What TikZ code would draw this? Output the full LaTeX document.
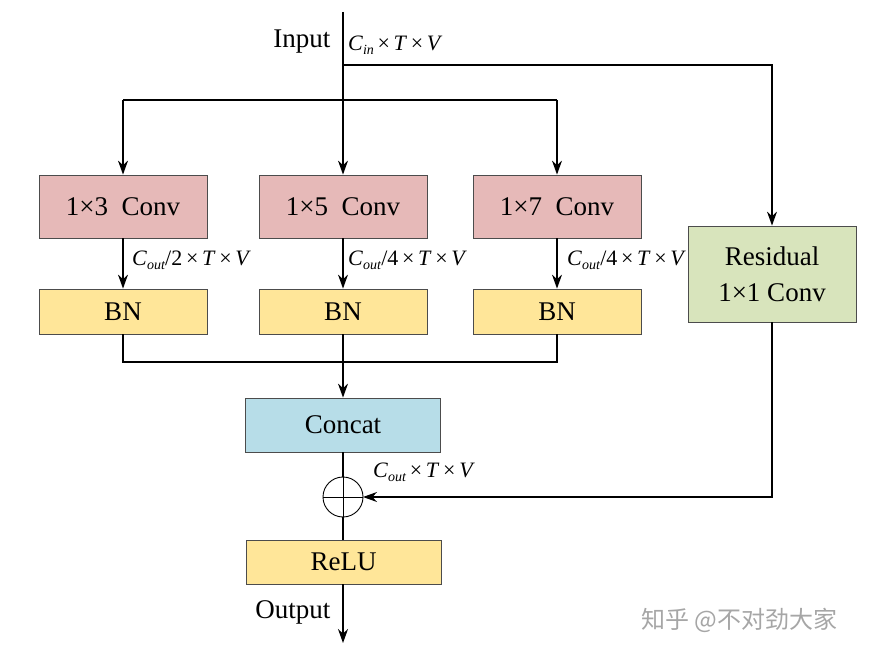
\documentclass[tikz,border=0pt]{standalone}
\usepackage{fontspec}
\setmainfont{Liberation Serif}
\newfontfamily\cjk{Noto Sans CJK SC}
\usetikzlibrary{arrows.meta}
\newcommand{\V}[1]{\textit{#1}}
\newcommand{\Cs}[1]{\textit{C}\raisebox{-4pt}{\fontsize{14}{14}\selectfont\textit{#1}}}
\begin{document}
\begin{tikzpicture}[x=1pt,y=-1pt,
  box/.style={draw=black!70,line width=0.8pt,minimum width=168pt,minimum height=63pt,font=\fontsize{27}{29}\selectfont,inner sep=0},
  conv/.style={box,fill=convred},
  bn/.style={box,fill=bnyel,minimum height=45pt},
  ln/.style={line width=1.3pt},
  arr/.style={ln,-{Stealth[length=14pt,width=10pt]}},
  lab/.style={font=\fontsize{22}{24}\selectfont,anchor=west,inner sep=0}]
\definecolor{convred}{HTML}{E6B9B8}
\definecolor{bnyel}{HTML}{FFE699}
\definecolor{resgreen}{HTML}{D8E4BC}
\definecolor{catblue}{HTML}{B7DDE8}
\useasboundingbox (0,0) rectangle (873,655);
\coordinate (in) at (343,12);
\node[conv] (c3) at (123,206.5) {1×3\ \ Conv};
\node[conv] (c5) at (343,206.5) {1×5\ \ Conv};
\node[conv] (c7) at (557,206.5) {1×7\ \ Conv};
\node[bn] (b3) at (123,311.5) {BN};
\node[bn] (b5) at (343,311.5) {BN};
\node[bn] (b7) at (557,311.5) {BN};
\node[box,fill=resgreen,minimum height=96pt,align=center,font=\fontsize{27}{36}\selectfont] (res) at (772,274) {Residual\\1×1 Conv};
\node[box,fill=catblue,minimum width=195pt,minimum height=54pt] (cat) at (343,425) {Concat};
\node[draw,circle,minimum size=40pt,line width=0.9pt,inner sep=0,outer sep=0] (add) at (343,497) {};
\draw[line width=0.9pt] (add.north)--(add.south) (add.west)--(add.east);
\node[box,fill=bnyel,minimum width=195pt,minimum height=44pt] (relu) at (343.5,562) {ReLU};
\coordinate (out) at (343,643);
\draw[arr] (in) -- (c5.north);
\draw[arr] (343,65) -| (res.north);
\draw[ln] (123,100) -- (557,100);
\draw[arr] (123,100) -- (c3.north);
\draw[arr] (557,100) -- (c7.north);
\node[font=\fontsize{27}{29}\selectfont,anchor=east] at (334,42) {Input};
\node[lab] at (348,45) {\Cs{in}\,×\,\V{T}\,×\,\V{V}};
\draw[arr] (c3) -- (b3);
\draw[arr] (c5) -- (b5);
\draw[arr] (c7) -- (b7);
\node[lab] at (132,260) {\Cs{out}/2\,×\,\V{T}\,×\,\V{V}};
\node[lab] at (348,260) {\Cs{out}/4\,×\,\V{T}\,×\,\V{V}};
\node[lab] at (567,260) {\Cs{out}/4\,×\,\V{T}\,×\,\V{V}};
\draw[ln] (b3.south) |- (557,362) -- (b7.south);
\draw[arr] (b5.south) -- (cat.north);
\draw[ln] (cat.south) -- (add.north);
\node[lab] at (373,472) {\Cs{out}\,×\,\V{T}\,×\,\V{V}};
\draw[arr] (res.south) |- (add.east);
\draw[ln] (add.south) -- (343,540);
\draw[arr] (343,584) -- (out);
\node[font=\fontsize{27}{29}\selectfont,anchor=east] at (334,612) {Output};
\node[font=\cjk\fontsize{24}{26}\selectfont,text=black!35,anchor=west] at (638,620) {知乎 @不对劲大家};
\end{tikzpicture}
\end{document}
